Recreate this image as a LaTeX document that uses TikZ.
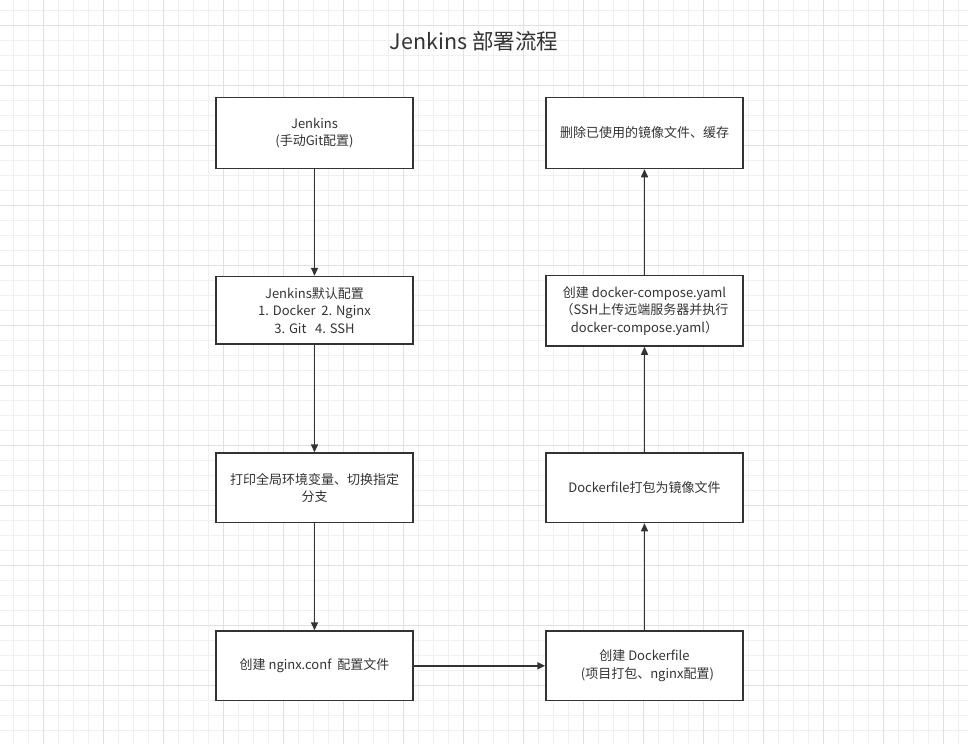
\documentclass[tikz,border=0pt]{standalone}
\usepackage{fontspec}
\setmainfont{Noto Sans CJK SC}
\usetikzlibrary{arrows.meta}
\definecolor{gridminor}{HTML}{F0F0F0}
\definecolor{gridmajor}{HTML}{E0E0E0}
\definecolor{ink}{HTML}{333333}
\definecolor{txt}{HTML}{333333}
\begin{document}
\begin{tikzpicture}[x=1pt,y=-1pt,
  stepbox/.style={draw=ink,line width=1.5pt,fill=white,minimum width=197pt,minimum height=70pt,
    inner sep=0pt,align=center,text=txt,font=\fontsize{13}{17.5}\selectfont},
  flow/.style={draw=ink,line width=1.5pt,-{Triangle[length=8pt,width=7pt]}}]
\useasboundingbox (0,0) rectangle (968,744);
\fill[white] (0,0) rectangle (968,744);
% grid
\foreach \i in {0,...,63} \draw[gridminor,line width=1pt] ({13.33+15*\i},0) -- ({13.33+15*\i},744);
\foreach \j in {0,...,49} \draw[gridminor,line width=1pt] (0,{10+15*\j}) -- (968,{10+15*\j});
\foreach \i in {0,...,15} \draw[gridmajor,line width=1pt] ({43.33+60*\i},0) -- ({43.33+60*\i},744);
\foreach \j in {0,...,12} \draw[gridmajor,line width=1pt] (0,{25+60*\j}) -- (968,{25+60*\j});
% title
\node[text=txt,font=\fontsize{21.5}{26}\selectfont] (title) at (474,41) {Jenkins 部署流程};
% left column
\node[stepbox,minimum height=71pt] (l1) at (314.5,133) {Jenkins\\(手动Git配置)};
\node[stepbox,minimum height=67.5pt] (l2) at (314.5,310.3) {Jenkins默认配置\\1. Docker\ \ 2. Nginx\\3. Git\ \ \ 4. SSH};
\node[stepbox,minimum height=69.5pt] (l3) at (314.5,487.8) {打印全局环境变量、切换指定\\分支};
\node[stepbox,minimum height=69.5pt] (l4) at (314.5,665.8) {创建 nginx.conf\ \ 配置文件};
% right column
\node[stepbox,minimum height=71pt] (r1) at (644.5,133) {删除已使用的镜像文件、缓存};
\node[stepbox,minimum height=70.5pt] (r2) at (644.5,310.8) {创建 docker-compose.yaml\\（SSH上传远端服务器并执行\\docker-compose.yaml）};
\node[stepbox,minimum height=69.5pt] (r3) at (644.5,487.8) {Dockerfile打包为镜像文件};
\node[stepbox,minimum height=69.5pt] (r4) at (644.5,665.8) {创建 Dockerfile\\\ \ (项目打包、nginx配置)};
% connectors
\draw[flow] (l1) -- (l2);
\draw[flow] (l2) -- (l3);
\draw[flow] (l3) -- (l4);
\draw[flow] (l4) -- (r4);
\draw[flow] (r4) -- (r3);
\draw[flow] (r3) -- (r2);
\draw[flow] (r2) -- (r1);
\end{tikzpicture}
\end{document}
